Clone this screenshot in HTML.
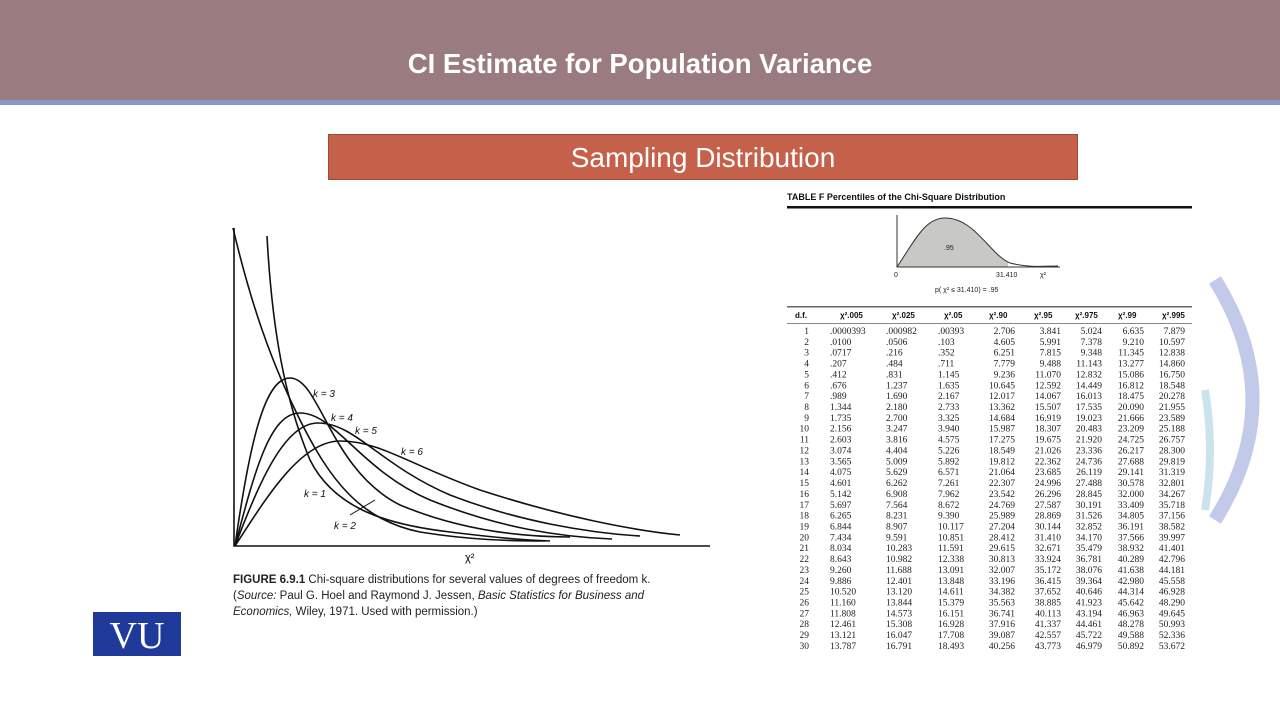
<!DOCTYPE html>
<html><head><meta charset="utf-8"><style>
body{margin:0;width:1280px;height:720px;overflow:hidden;background:#fff;font-family:"Liberation Sans",sans-serif;position:relative}
.hdr{position:absolute;left:0;top:0;width:1280px;height:100px;background:#9a7b7f}
.hdr h1{margin:0;text-align:center;line-height:128px;color:#fff;font-size:27.5px;font-weight:bold}
.bl{position:absolute;left:0;top:100px;width:1280px;height:5px;background:#8a96c8}
.box{position:absolute;left:328px;top:134px;width:750px;height:46px;background:#c5614a;border:1px solid #a04a38;box-sizing:border-box;color:#fff;font-size:28px;text-align:center;line-height:45px;z-index:2}
svg{position:absolute;left:0;top:0}
</style></head><body>
<div class="hdr"><h1>CI Estimate for Population Variance</h1></div>
<div class="bl"></div>
<svg width="1280" height="720" id="s">
<path d="M1215,280 Q1290,400 1215,520" stroke="#aab4e0" stroke-width="14" fill="none" opacity="0.7"/>
<path d="M1205,390 Q1215,450 1205,510" stroke="#a9d0dc" stroke-width="8" fill="none" opacity="0.6"/>
<g fill="none" stroke="#111" stroke-width="1.6">
<path d="M234,228 V546 H710"/>
<path d="M233,228 C250,300 270,360 300,420 C330,480 360,520 420,532 C470,540 510,541 545,541"/>
<path d="M267,236 C272,330 285,400 310,460 C335,510 390,525 450,532 C490,537 520,540 550,541"/>
<path d="M235,546 C250,440 265,378 290,378 C320,378 330,470 400,505 C460,530 520,537 570,537"/>
<path d="M235,546 C255,470 270,413 300,413 C335,413 360,470 430,500 C500,528 560,537 612,539"/>
<path d="M235,546 C260,480 285,423 318,423 C355,423 380,465 450,495 C520,522 590,533 640,536"/>
<path d="M235,546 C265,500 300,441 340,441 C380,441 410,465 480,490 C560,516 630,530 680,535"/>
<path d="M350,515 L375,500" stroke-width="1"/>
</g>
<g font-size="10" fill="#111" font-style="italic">
<text x="313" y="397">k = 3</text><text x="331" y="421">k = 4</text><text x="355" y="434">k = 5</text>
<text x="401" y="455">k = 6</text><text x="304" y="497">k = 1</text><text x="334" y="529">k = 2</text>
</g>
<text x="465" y="561" font-size="11">χ²</text>
<g font-size="11.5" fill="#222">
<text x="233" y="583"><tspan font-weight="bold">FIGURE 6.9.1</tspan>  Chi-square distributions for several values of degrees of freedom k.</text>
<text x="233" y="599">(<tspan font-style="italic">Source:</tspan> Paul G. Hoel and Raymond J. Jessen, <tspan font-style="italic">Basic Statistics for Business and</tspan></text>
<text x="233" y="615"><tspan font-style="italic">Economics,</tspan> Wiley, 1971. Used with permission.)</text>
</g>
<rect x="93" y="612" width="88" height="44" fill="#1f3a9a"/>
<text x="137" y="648" font-family="Liberation Serif" font-size="38" fill="#fff" text-anchor="middle">VU</text>
<text x="787" y="200" font-size="9" font-weight="bold" fill="#111">TABLE F   Percentiles of the Chi-Square Distribution</text>
<rect x="787" y="206" width="405" height="2.5" fill="#111"/>
<path d="M897,267 C915,240 925,218 945,218 C975,218 990,255 1008,262 L1008,267 Z" fill="#c8c8c4"/>
<path d="M897,267 C915,240 925,218 945,218 C975,218 990,255 1010,263 C1030,268 1045,266 1058,266" fill="none" stroke="#333" stroke-width="1"/>
<path d="M897,215 V267 H1060" fill="none" stroke="#333" stroke-width="1"/>
<g font-size="7" fill="#222"><text x="944" y="250">.95</text><text x="894" y="277">0</text><text x="996" y="277">31.410</text><text x="1040" y="277">χ²</text>
<text x="935" y="292">p( χ² ≤ 31.410) = .95</text></g>
<rect x="787" y="306" width="405" height="1.5" fill="#666"/>
<rect x="787" y="323" width="405" height="1" fill="#888"/>
<g font-size="8" font-weight="bold" fill="#111"><text x="795" y="318">d.f.</text>
<text x="840" y="318">χ².005</text><text x="892" y="318">χ².025</text><text x="944" y="318">χ².05</text><text x="989" y="318">χ².90</text><text x="1034" y="318">χ².95</text><text x="1075" y="318">χ².975</text><text x="1118" y="318">χ².99</text><text x="1162" y="318">χ².995</text></g>
<g id="tb" font-family="Liberation Serif" font-size="9.5" fill="#222"></g>
</svg>
<div class="box">Sampling Distribution</div>
<script>
var d=`.0000393 .000982 .00393 2.706 3.841 5.024 6.635 7.879
.0100 .0506 .103 4.605 5.991 7.378 9.210 10.597
.0717 .216 .352 6.251 7.815 9.348 11.345 12.838
.207 .484 .711 7.779 9.488 11.143 13.277 14.860
.412 .831 1.145 9.236 11.070 12.832 15.086 16.750
.676 1.237 1.635 10.645 12.592 14.449 16.812 18.548
.989 1.690 2.167 12.017 14.067 16.013 18.475 20.278
1.344 2.180 2.733 13.362 15.507 17.535 20.090 21.955
1.735 2.700 3.325 14.684 16.919 19.023 21.666 23.589
2.156 3.247 3.940 15.987 18.307 20.483 23.209 25.188
2.603 3.816 4.575 17.275 19.675 21.920 24.725 26.757
3.074 4.404 5.226 18.549 21.026 23.336 26.217 28.300
3.565 5.009 5.892 19.812 22.362 24.736 27.688 29.819
4.075 5.629 6.571 21.064 23.685 26.119 29.141 31.319
4.601 6.262 7.261 22.307 24.996 27.488 30.578 32.801
5.142 6.908 7.962 23.542 26.296 28.845 32.000 34.267
5.697 7.564 8.672 24.769 27.587 30.191 33.409 35.718
6.265 8.231 9.390 25.989 28.869 31.526 34.805 37.156
6.844 8.907 10.117 27.204 30.144 32.852 36.191 38.582
7.434 9.591 10.851 28.412 31.410 34.170 37.566 39.997
8.034 10.283 11.591 29.615 32.671 35.479 38.932 41.401
8.643 10.982 12.338 30.813 33.924 36.781 40.289 42.796
9.260 11.688 13.091 32.007 35.172 38.076 41.638 44.181
9.886 12.401 13.848 33.196 36.415 39.364 42.980 45.558
10.520 13.120 14.611 34.382 37.652 40.646 44.314 46.928
11.160 13.844 15.379 35.563 38.885 41.923 45.642 48.290
11.808 14.573 16.151 36.741 40.113 43.194 46.963 49.645
12.461 15.308 16.928 37.916 41.337 44.461 48.278 50.993
13.121 16.047 17.708 39.087 42.557 45.722 49.588 52.336
13.787 16.791 18.493 40.256 43.773 46.979 50.892 53.672`.split("\n");
var xs=[[830,'start'],[886,'start'],[938,'start'],[1015,'end'],[1061,'end'],[1102,'end'],[1144,'end'],[1185,'end']];
var h='';d.forEach(function(r,i){var y=334+i*10.86;h+='<text x="809" y="'+y+'" text-anchor="end">'+(i+1)+'</text>';
r.split(' ').forEach(function(v,j){h+='<text x="'+xs[j][0]+'" y="'+y+'" text-anchor="'+xs[j][1]+'">'+v+'</text>';});});
document.getElementById('tb').innerHTML=h;
</script>
</body></html>
